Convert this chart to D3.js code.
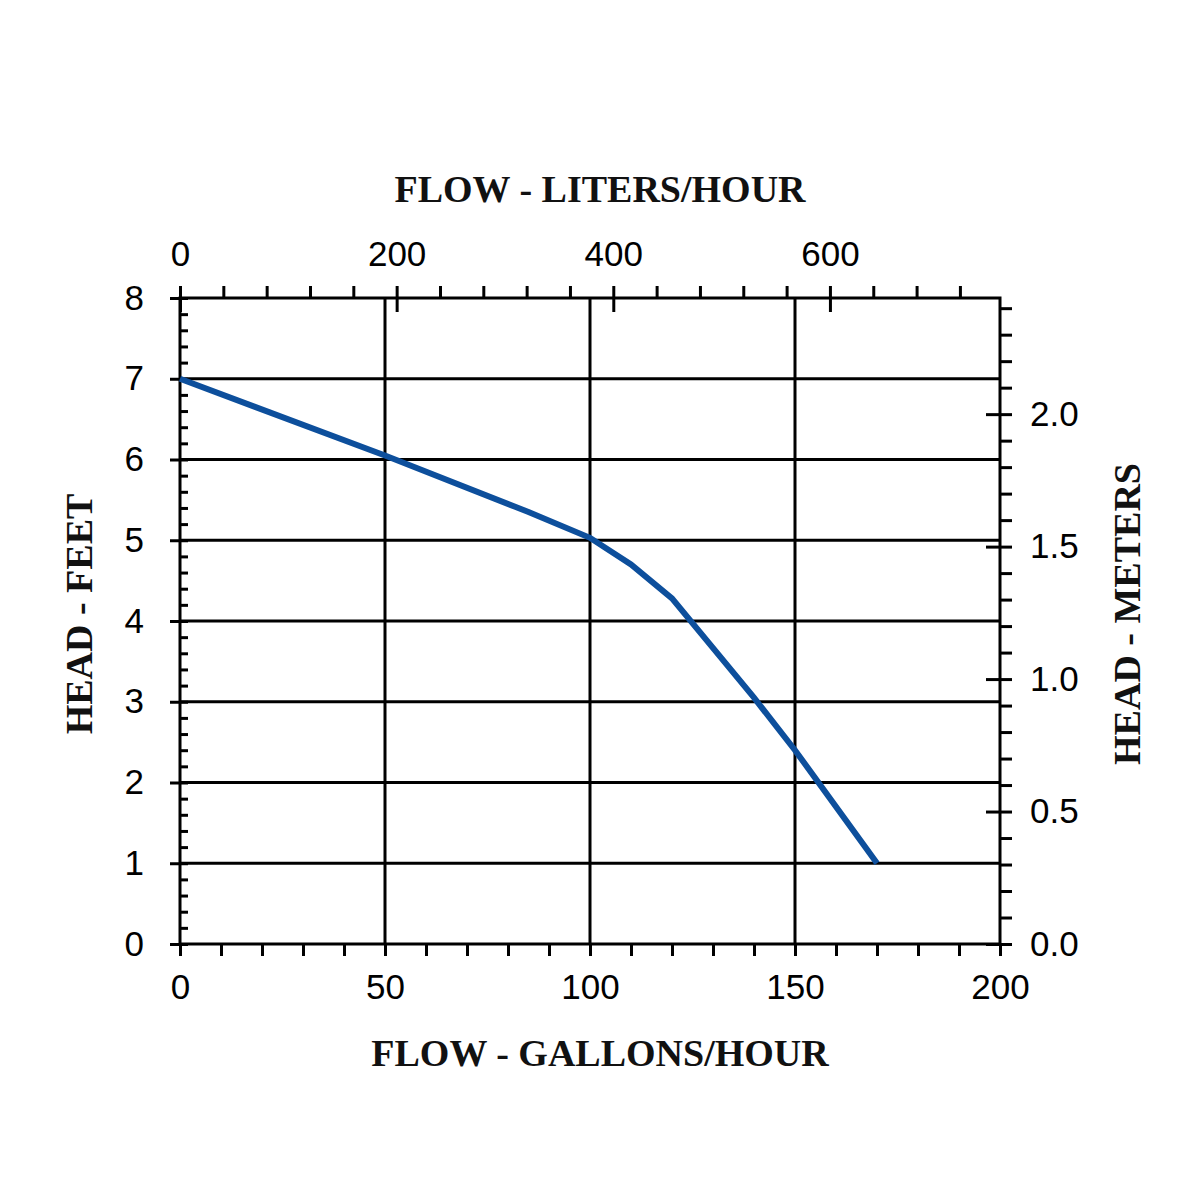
<!DOCTYPE html>
<html><head><meta charset="utf-8">
<script src="https://cdn.jsdelivr.net/npm/d3@7"></script>
<style>body{margin:0;background:#fff}</style>
</head><body>
<svg width="1200" height="1200"></svg>
<script>
// pump curve, flow in gal/h vs head in feet
var flowGph = [0, 50, 85, 100, 110, 120, 140, 150, 170];
var headFt  = [7, 6.05, 5.35, 5.03, 4.7, 4.28, 3.05, 2.4, 1.0];
var gphTicks = [0, 50, 100, 150, 200];
var ftTicks = [0, 1, 2, 3, 4, 5, 6, 7, 8];
var lphTicks = [0, 200, 400, 600];
var mTicks = [0, 0.5, 1.0, 1.5, 2.0];

var svg = d3.select("svg");
var x = d3.scaleLinear().domain([0, 200]).range([180, 1000]);
var y = d3.scaleLinear().domain([0, 8]).range([944, 298]);
var xL = d3.scaleLinear().domain([0, 200 * 3.785]).range([180, 1000]);
var yM = d3.scaleLinear().domain([0, 8 * 0.3048]).range([944, 298]);

var tickFont = "Liberation Sans, Arial, sans-serif";
var titleFont = "Liberation Serif, Times New Roman, serif";

// grid
svg.append("g").selectAll("line").data([1, 2, 3, 4, 5, 6, 7]).join("line")
  .attr("x1", 180).attr("x2", 1000).attr("y1", d => y(d)).attr("y2", d => y(d))
  .attr("stroke", "#000").attr("stroke-width", 3);
svg.append("g").selectAll("line").data([50, 100, 150]).join("line")
  .attr("y1", 298).attr("y2", 944).attr("x1", d => x(d)).attr("x2", d => x(d))
  .attr("stroke", "#000").attr("stroke-width", 3);

function styleAxis(g, size) {
  g.select(".domain").remove();
  g.selectAll("line").attr("stroke", "#000").attr("stroke-width", 3);
  g.selectAll("text").attr("font-family", tickFont).attr("font-size", size).attr("fill", "#000");
}

// bottom
svg.append("g").attr("transform", "translate(0,944)")
  .call(d3.axisBottom(x).tickValues(d3.range(0, 201, 10)).tickSize(12).tickPadding(18).tickFormat(d => gphTicks.includes(d) ? d : ""))
  .call(g => styleAxis(g, 35));
// left
svg.append("g").attr("transform", "translate(180,0)")
  .call(d3.axisRight(y).tickValues(d3.range(0, 41).map(i => i * 0.2)).tickSize(8).tickFormat(""))
  .call(g => styleAxis(g, 35));
svg.append("g").attr("transform", "translate(180,0)")
  .call(d3.axisLeft(y).tickValues(ftTicks).tickSize(10).tickPadding(26))
  .call(g => styleAxis(g, 35));
// top
svg.append("g").attr("transform", "translate(0,298)")
  .call(d3.axisTop(xL).tickValues(d3.range(0, 721, 40)).tickSize(12).tickPadding(20).tickFormat(d => lphTicks.includes(d) ? d : ""))
  .call(g => styleAxis(g, 35));
svg.append("g").attr("transform", "translate(0,298)")
  .call(d3.axisBottom(xL).tickValues(lphTicks).tickSize(14).tickFormat(""))
  .call(g => styleAxis(g, 35));
// right
svg.append("g").attr("transform", "translate(1000,0)")
  .call(d3.axisRight(yM).tickValues(d3.range(0, 25).map(i => i / 10)).tickSize(12).tickPadding(18)
    .tickFormat(d => mTicks.some(m => Math.abs(m - d) < 1e-9) ? d.toFixed(1) : ""))
  .call(g => styleAxis(g, 35));
svg.append("g").attr("transform", "translate(1000,0)")
  .call(d3.axisLeft(yM).tickValues(mTicks).tickSize(14).tickFormat(""))
  .call(g => styleAxis(g, 35));

// frame
svg.append("rect").attr("x", 180).attr("y", 298).attr("width", 820).attr("height", 646)
  .attr("fill", "none").attr("stroke", "#000").attr("stroke-width", 3);

// curve
svg.append("path").datum(d3.zip(flowGph, headFt))
  .attr("d", d3.line().x(d => x(d[0])).y(d => y(d[1])))
  .attr("fill", "none").attr("stroke", "#0d4f9c").attr("stroke-width", 6);

// titles
function title(t, tx, ty, rot) {
  svg.append("text").text(t).attr("transform", "translate(" + tx + "," + ty + ") rotate(" + rot + ")")
    .attr("text-anchor", "middle").attr("font-family", titleFont).attr("font-weight", "bold")
    .attr("font-size", 38).attr("fill", "#111");
}
title("FLOW - LITERS/HOUR", 600, 202, 0);
title("FLOW - GALLONS/HOUR", 600, 1066, 0);
title("HEAD - FEET", 92, 614, -90);
title("HEAD - METERS", 1140, 614, -90);
</script>
</body></html>
